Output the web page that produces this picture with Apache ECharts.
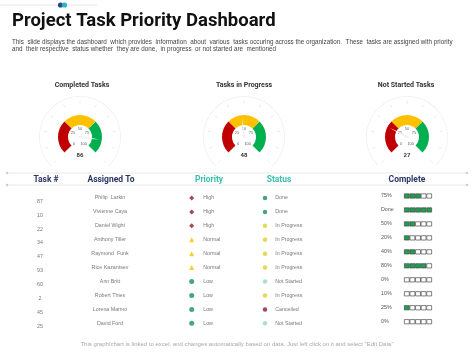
<!DOCTYPE html>
<html><head><meta charset="utf-8">
<script src="https://cdn.jsdelivr.net/npm/echarts@6/dist/echarts.min.js"></script>
<style>html,body{margin:0;padding:0;background:#fff}#c{width:474px;height:355px}</style>
</head><body><div id="c"></div>
<script>
// ---- data ----
const gaugeTitles = ['Completed Tasks', 'Tasks in Progress', 'Not Started Tasks'];
const gaugeValues = [86, 48, 27];
const headers = ['Task #', 'Assigned To', 'Priority', 'Status', 'Complete'];
const taskIds = ['87', '10', '22', '34', '47', '93', '60', '2', '45', '25'];
const assignees = ['Philip  Larkin', 'Vivienne Caya', 'Daniel Wight', 'Anthony Tiller', 'Raymond  Funk', 'Rice Kazantsev', 'Ann Britt', 'Robert Thies', 'Lorena Marmo', 'David Ford'];
const priorities = ['High', 'High', 'High', 'Normal', 'Normal', 'Normal', 'Low', 'Low', 'Low', 'Low'];
const statuses = ['Done', 'Done', 'In Progress', 'In Progress', 'In Progress', 'In Progress', 'Not Started', 'In Progress', 'Cancelled', 'Not Started'];
const completeLabels = ['75%', 'Done', '50%', '20%', '40%', '80%', '0%', '10%', '25%', '0%'];
const completeValues = [75, 100, 50, 20, 40, 80, 0, 10, 25, 0];
const boxCount = 5;

// ---- styles ----
const prioStyle = {
  High: { symbol: 'diamond', color: '#8b1c2c', size: 5 },
  Normal: { symbol: 'triangle', color: '#f2c200', size: 5 },
  Low: { symbol: 'circle', color: '#1b8c6c', size: 5 }
};
const statusColor = { 'Done': '#1d8b5f', 'In Progress': '#dcd12e', 'Not Started': '#95d6c6', 'Cancelled': '#8b1a2b' };
const cellFont = 'Liberation Sans';
const headFont = 'Roboto';

const chart = echarts.init(document.getElementById('c'), null, { renderer: 'canvas' });

const gaugeCenters = [80, 244, 407];
const series = [];
const grids = [];
const xAxes = [];
const yAxes = [];

gaugeCenters.forEach((cx, i) => {
  series.push({
    type: 'gauge', center: [cx, 137], radius: 41, startAngle: 225, endAngle: -45, min: 0, max: 100, splitNumber: 10,
    axisLine: { lineStyle: { width: 0.7, color: [[1, '#eeeeee']] } },
    axisTick: { show: false },
    splitLine: { show: true, distance: 4, length: 3, lineStyle: { color: '#dadada', width: 0.6 } },
    axisLabel: { show: false }, pointer: { show: false }, anchor: { show: false },
    title: { show: false }, detail: { show: false }, silent: true,
    data: [{ value: gaugeValues[i] }]
  });
  series.push({
    type: 'gauge', center: [cx, 137], radius: 22, startAngle: 225, endAngle: -45, min: 0, max: 100, splitNumber: 4,
    axisLine: { lineStyle: { width: 10, color: [[1 / 3, '#c00000'], [2 / 3, '#ffc000'], [1, '#00b050']] } },
    axisTick: { show: false }, splitLine: { show: false, length: 0, distance: 0 },
    axisLabel: { distance: 12, fontSize: 4, color: '#666', fontFamily: cellFont },
    pointer: { length: '88%', width: 1.2, itemStyle: { color: '#f2f2f2' } },
    anchor: { show: false }, title: { show: false },
    detail: { offsetCenter: [0, 18], fontSize: 6, fontWeight: 'bold', color: '#333', fontFamily: headFont, formatter: '{value}' },
    silent: true,
    data: [{ value: gaugeValues[i] }]
  });
});

// table column grids
function addGrid(g) { grids.push(g); return grids.length - 1; }
function catAxes(gi) {
  xAxes.push({ gridIndex: gi, type: 'category', data: ['c'], show: false });
  yAxes.push({ gridIndex: gi, type: 'category', data: taskIds, inverse: true, show: false });
}
// Task #
let g = addGrid({ left: 20, width: 40, top: 194.4, bottom: 21.7 }); catAxes(g);
series.push({
  type: 'scatter', xAxisIndex: g, yAxisIndex: g, symbolSize: 0, silent: true,
  label: { show: true, position: 'inside', formatter: p => p.value[1], fontSize: 5.3, color: '#555', fontFamily: cellFont },
  data: taskIds.map(t => ['c', t])
});
// Names
g = addGrid({ left: 80, width: 60, top: 191, bottom: 24.7 }); catAxes(g);
series.push({
  type: 'scatter', xAxisIndex: g, yAxisIndex: g, symbolSize: 0, silent: true,
  label: { show: true, position: 'inside', formatter: p => assignees[p.dataIndex], fontSize: 5.3, color: '#555', fontFamily: cellFont },
  data: taskIds.map(t => ['c', t])
});
// Priority
g = addGrid({ left: 181.7, width: 20, top: 191, bottom: 24.7 }); catAxes(g);
series.push({
  type: 'scatter', xAxisIndex: g, yAxisIndex: g, silent: true,
  data: taskIds.map((t, i) => ({
    value: ['c', t], symbol: prioStyle[priorities[i]].symbol, symbolSize: prioStyle[priorities[i]].size,
    itemStyle: { color: prioStyle[priorities[i]].color }
  })),
  label: { show: true, position: 'right', distance: 9, formatter: p => priorities[p.dataIndex], fontSize: 5.3, color: '#555', fontFamily: cellFont }
});
// Status
g = addGrid({ left: 255, width: 20, top: 191, bottom: 24.7 }); catAxes(g);
series.push({
  type: 'scatter', xAxisIndex: g, yAxisIndex: g, silent: true, symbolSize: 4.5,
  data: taskIds.map((t, i) => ({ value: ['c', t], itemStyle: { color: statusColor[statuses[i]] } })),
  label: { show: true, position: 'right', distance: 8, formatter: p => statuses[p.dataIndex], fontSize: 5.3, color: '#555', fontFamily: cellFont }
});
// Complete
g = addGrid({ left: 404, width: 28, top: 189, bottom: 26.3 });
xAxes.push({ gridIndex: g, type: 'value', min: 0, max: 100, show: false });
yAxes.push({
  gridIndex: g, type: 'category', data: taskIds, inverse: true,
  axisLine: { show: false }, axisTick: { show: false },
  axisLabel: { formatter: (v, idx) => completeLabels[idx], align: 'left', margin: 23, fontSize: 5.3, color: '#555', fontFamily: cellFont }
});
for (let k = 0; k < boxCount; k++) {
  series.push({
    type: 'bar', xAxisIndex: g, yAxisIndex: g, stack: 'boxes', barWidth: 5, silent: true,
    data: completeValues.map(v => ({
      value: 100 / boxCount,
      itemStyle: { color: Math.floor(v / (100 / boxCount)) > k ? '#1e9e50' : '#ffffff', borderColor: '#4a4a4a', borderWidth: 0.7 }
    }))
  });
}

const headerX = [46, 111, 209, 279, 407];
const headerColor = ['#2b3566', '#2b3566', '#39bfae', '#39bfae', '#2b3566'];

const graphic = [
  { type: 'line', shape: { x1: 0, y1: 5, x2: 97, y2: 5 }, style: { stroke: '#d6d6d6', lineWidth: 0.6 } },
  { type: 'circle', shape: { cx: 60.5, cy: 5, r: 2.6 }, style: { fill: '#1f4e8c' } },
  { type: 'circle', shape: { cx: 64.5, cy: 5, r: 2.6 }, style: { fill: '#29b6c4' } },
  { type: 'text', left: 12, top: 11.5, style: { text: 'Project Task Priority Dashboard', font: 'bold 18.5px Roboto', fill: '#111' } },
  { type: 'text', left: 12, top: 38.5, style: { text: 'This  slide displays the dashboard  which provides  information  about  various  tasks occuring across the organization.  These  tasks are assigned with priority\nand  their respective  status whether  they are done,  in progress  or not started are  mentioned', font: '6.3px "Liberation Sans"', fill: '#444', lineHeight: 7.2 } },
  { type: 'line', shape: { x1: 7, y1: 173, x2: 467, y2: 173 }, style: { stroke: '#e2e2e2', lineWidth: 0.8 } },
  { type: 'line', shape: { x1: 7, y1: 185, x2: 467, y2: 185 }, style: { stroke: '#e2e2e2', lineWidth: 0.8 } },
  { type: 'circle', shape: { cx: 7, cy: 173, r: 1.3 }, style: { fill: '#cfcfcf' } },
  { type: 'circle', shape: { cx: 7, cy: 185, r: 1.3 }, style: { fill: '#cfcfcf' } },
  { type: 'circle', shape: { cx: 467, cy: 173, r: 1.3 }, style: { fill: '#cfcfcf' } },
  { type: 'circle', shape: { cx: 467, cy: 185, r: 1.3 }, style: { fill: '#cfcfcf' } },
  { type: 'text', x: 237, y: 344, style: { text: 'This graph/chart is linked to excel, and changes automatically based on data. Just left click on it and select "Edit Data"', font: '6px "Liberation Sans"', fill: '#a8a8a8', align: 'center', verticalAlign: 'middle' } }
];
gaugeTitles.forEach((t, i) => {
  graphic.push({ type: 'text', x: [82, 244, 406][i], y: 85, style: { text: t, font: 'bold 7px Roboto', fill: '#333', align: 'center', verticalAlign: 'middle' } });
});
headers.forEach((h, i) => {
  graphic.push({ type: 'text', x: headerX[i], y: 179.5, style: { text: h, font: 'bold 8.5px Roboto', fill: headerColor[i], align: 'center', verticalAlign: 'middle' } });
});

chart.setOption({
  animation: false,
  backgroundColor: '#fff',
  grid: grids, xAxis: xAxes, yAxis: yAxes,
  series: series,
  graphic: graphic
});
</script></body></html>
